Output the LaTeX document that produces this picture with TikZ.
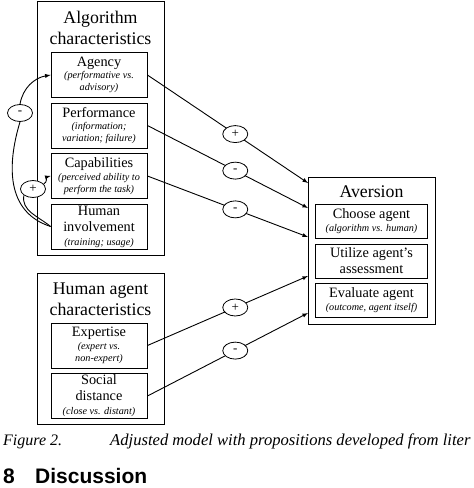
\documentclass[tikz,border=0pt]{standalone}
\usepackage{fontspec}
\setmainfont{Liberation Serif}
\newfontfamily\headfont{Liberation Sans}
\usetikzlibrary{shapes,arrows,positioning,calc}

\newcommand{\subtxt}[1]{{\fontsize{10.2}{12}\selectfont\itshape #1}}

\begin{document}
\begin{tikzpicture}[x=1pt,y=-1pt,
    outer/.style={draw, line width=0.9pt, minimum width=127, inner sep=0},
    item/.style={draw, line width=0.9pt, minimum width=96, minimum height=45, inner sep=0, align=center, font=\fontsize{14.3}{16}\selectfont},
    avitem/.style={item, minimum width=112, minimum height=34},
    title/.style={align=center, inner sep=0, font=\fontsize{17.8}{21}\selectfont},
    sign/.style={draw, ellipse, fill=white, line width=0.8pt, minimum width=25, minimum height=17, inner sep=0, font=\fontsize{13}{13}\selectfont},
    link/.style={-latex, line width=0.9pt}]
    %Page size and clip%
    %===========================================================
    \useasboundingbox (0,0) rectangle (474,488);
    \clip (0,0) rectangle (474,488);
    \def \ColX {99}; %Center of the small boxes on the left
    \def \AvX {371.5}; %Center of the aversion boxes
    %Algorithm characteristics%
    %===========================================================
    \node[outer, minimum height=254] (algo) at (100.5,128) {};
    \node[title] (algotitle) at (100.5,27.5) {Algorithm\\characteristics};
    \node[item] (agency) at (\ColX,75) {Agency\\[-3.5pt]\subtxt{(performative vs.}\\[-4pt]\subtxt{advisory)}};
    \node[item] (perf) at (\ColX,125.5) {Performance\\[-3.5pt]\subtxt{(information;}\\[-4pt]\subtxt{variation; failure)}};
    \node[item] (cap) at (\ColX,176) {Capabilities\\[-3.5pt]\subtxt{(perceived ability to}\\[-4pt]\subtxt{perform the task)}};
    \node[item] (hum) at (\ColX,226.5) {Human\\involvement\\[-2pt]\subtxt{(training; usage)}};
    %Human agent characteristics%
    %===========================================================
    \node[outer, minimum height=151] (human) at (100.5,348.5) {};
    \node[title] (humtitle) at (100.5,299.5) {Human agent\\characteristics};
    \node[item] (exp) at (\ColX,345.5) {Expertise\\[-3.5pt]\subtxt{(expert vs.}\\[-4pt]\subtxt{non-expert)}};
    \node[item] (social) at (\ColX,396) {Social\\distance\\[-2pt]\subtxt{(close vs. distant)}};
    %Aversion%
    %===========================================================
    \node[outer, minimum height=147] (aversion) at (\AvX,250.5) {};
    \node[title] (avtitle) at (\AvX,192) {Aversion};
    \node[avitem] (choose) at (\AvX,221) {Choose agent\\[-3pt]\subtxt{(algorithm vs. human)}};
    \node[avitem] (utilize) at (\AvX,261) {Utilize agent’s\\assessment};
    \node[avitem] (evaluate) at (\AvX,300.5) {Evaluate agent\\[-3pt]\subtxt{(outcome, agent itself)}};
    %Inputs on the aversion box
    \coordinate (av1) at (308,183);
    \coordinate (av2) at (308,208);
    \coordinate (av3) at (308,237);
    \coordinate (av4) at (308,276);
    \coordinate (av5) at (308,313);
    %Propositions%
    %===========================================================
    \draw[link] (agency.east) -- node[sign, pos=0.547] (s1) {+} (av1);
    \draw[link] (perf.east) -- node[sign, pos=0.547] (s2) {-} (av2);
    \draw[link] (cap.east) -- node[sign, pos=0.547] (s3) {-} (av3);
    \draw[link] (exp.east) -- node[sign, pos=0.547] (s4) {+} (av4);
    \draw[link] (social.east) -- node[sign, pos=0.547] (s5) {-} (av5);
    %Moderation of human involvement
    \node[sign] (m1) at (20,113) {-};
    \node[sign] (p1) at (33,189) {+};
    \draw[line width=0.9pt] (hum.west) .. controls (6,212) and (7,165) .. (m1.south);
    \draw[link] (m1.north) to[out=80,in=190] (agency.west);
    \draw[line width=0.9pt] (hum.west) to[out=140,in=-100] (p1.south west);
    \draw[link] (p1) to[out=25,in=195] (cap.west);
    %Caption and heading%
    %===========================================================
    \node[anchor=base west, inner sep=0, font=\fontsize{16}{16}\selectfont\itshape] (fig) at (3,445) {Figure 2.};
    \node[anchor=base west, inner sep=0, font=\fontsize{16.6}{16}\selectfont\itshape] (caption) at (110,445) {Adjusted model with propositions developed from liter};
    \node[anchor=base west, inner sep=0, font=\fontsize{21}{21}\selectfont\headfont\bfseries] (secnum) at (3,483) {8};
    \node[anchor=base west, inner sep=0, font=\fontsize{21}{21}\selectfont\headfont\bfseries] (sec) at (35,483) {Discussion};
\end{tikzpicture}
\end{document}
